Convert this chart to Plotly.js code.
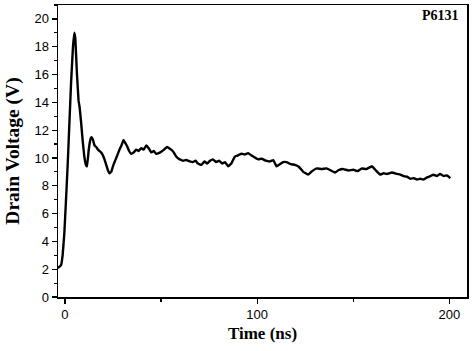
<!DOCTYPE html>
<html><head><meta charset="utf-8">
<script src="https://cdn.plot.ly/plotly-3.0.1.min.js"></script>
<style>html,body{margin:0;padding:0;background:#fff}</style>
</head><body>
<div id="chart" style="width:474px;height:351px"></div>
<script>
const timeNs = [-3.8,-3,-2,-1.2,-0.3,0.5,1.4,2.3,3.2,4.2,4.9,5.4,6.2,7.1,7.6,8.4,9.2,10.2,11.1,11.5,12.4,13.4,13.9,14.6,15.4,16.2,17.2,18.0,18.8,19.7,20.6,21.5,22.4,23.2,24.1,25.0,25.8,27.0,28.4,29.4,30.5,31.3,32.2,33.4,34.5,35.8,37.1,38.3,39.7,41.0,42.3,43.6,44.9,46.2,47.5,48.8,50.1,51.6,53.1,54.2,55.3,56.6,57.9,59.7,61.4,63.1,64.9,66.5,68.0,69.2,71.0,72.6,74.0,75.5,77.0,78.6,80.2,81.8,83.3,84.9,86.6,88.4,90.2,92.0,93.6,95.3,96.9,98.6,100.5,102.4,104.5,106.6,108.4,110.1,111.8,113.5,115.3,117.5,119.7,121.8,124.0,125.3,126.6,128.6,131.0,133.6,136.2,138.4,140.5,142.7,144.9,147.5,150.1,152.3,154.5,156.8,159.7,161.8,164.0,165.8,167.5,170.1,172.7,174.5,176.2,178.0,179.7,181.5,183.2,184.9,186.6,188.4,190.1,191.8,193.5,195.2,197.0,198.8,200.5];
const drainV = [2.1,2.15,2.3,3.0,4.6,6.8,9.4,12.4,15.4,18.0,19.0,18.6,16.2,14.1,13.7,12.6,11.3,10.0,9.45,9.4,10.6,11.4,11.5,11.3,10.9,10.8,10.6,10.5,10.4,10.2,9.9,9.5,9.1,8.9,9.0,9.4,9.7,10.1,10.6,10.9,11.3,11.1,10.9,10.5,10.3,10.4,10.6,10.5,10.7,10.6,10.9,10.7,10.4,10.5,10.3,10.35,10.45,10.6,10.8,10.7,10.6,10.4,10.1,9.9,9.8,9.85,9.75,9.7,9.8,9.6,9.5,9.75,9.6,9.8,9.9,9.7,9.8,9.6,9.7,9.4,9.6,10.1,10.2,10.3,10.25,10.35,10.2,10.05,9.9,9.95,9.8,9.75,9.85,9.4,9.55,9.7,9.7,9.55,9.5,9.35,9.0,8.9,8.8,9.05,9.25,9.2,9.25,9.1,8.95,9.15,9.2,9.1,9.15,9.05,9.25,9.2,9.4,9.1,8.8,8.9,8.85,8.95,8.85,8.8,8.7,8.65,8.5,8.55,8.45,8.5,8.45,8.6,8.7,8.8,8.7,8.85,8.7,8.75,8.55];
const xTicks = [0,100,200];
const yTicks = [0,2,4,6,8,10,12,14,16,18,20];
const label = 'P6131';

Plotly.newPlot('chart', [{
  x: timeNs, y: drainV, type: 'scatter', mode: 'lines',
  line: {color: '#000', width: 2.4, shape: 'spline', smoothing: 0.2},
  hoverinfo: 'skip'
}], {
  width: 474, height: 351,
  margin: {l: 58, r: 7, t: 5, b: 54},
  paper_bgcolor: '#fff', plot_bgcolor: '#fff',
  showlegend: false,
  font: {family: 'Liberation Sans, Arial, sans-serif', size: 13, color: '#000'},
  xaxis: {
    range: [-3.6, 209.2], tickvals: xTicks, ticktext: xTicks.map(String),
    ticks: 'outside', ticklen: 5, tickwidth: 1.2, tickcolor: '#000',
    minor: {tickvals: [50, 150], ticks: 'outside', ticklen: 3, tickcolor: '#000', showgrid: false},
    showgrid: false, zeroline: false,
    showline: true, linecolor: '#000', linewidth: 1.5, mirror: true,
    tickfont: {size: 13},
    title: {text: '<b>Time (ns)</b>', font: {family: 'Liberation Serif, Times New Roman, serif', size: 17}, standoff: 6}
  },
  yaxis: {
    range: [0, 21.0], tickvals: yTicks, ticktext: yTicks.map(String),
    ticks: 'outside', ticklen: 5, tickwidth: 1.2, tickcolor: '#000',
    minor: {dtick: 1, ticks: 'outside', ticklen: 3, tickcolor: '#000', showgrid: false},
    showgrid: false, zeroline: false,
    showline: true, linecolor: '#000', linewidth: 1.5, mirror: true,
    tickfont: {size: 13},
    title: {text: '<b>Drain Voltage (V)</b>', font: {family: 'Liberation Serif, Times New Roman, serif', size: 19.5}, standoff: 9}
  },
  annotations: [{
    text: '<b>' + label + '</b>', xref: 'paper', yref: 'paper', x: 0.985, y: 0.965,
    xanchor: 'right', yanchor: 'middle', showarrow: false,
    font: {family: 'Liberation Serif, Times New Roman, serif', size: 14, color: '#000'}
  }]
}, {staticPlot: true, displayModeBar: false});
</script>
</body></html>
